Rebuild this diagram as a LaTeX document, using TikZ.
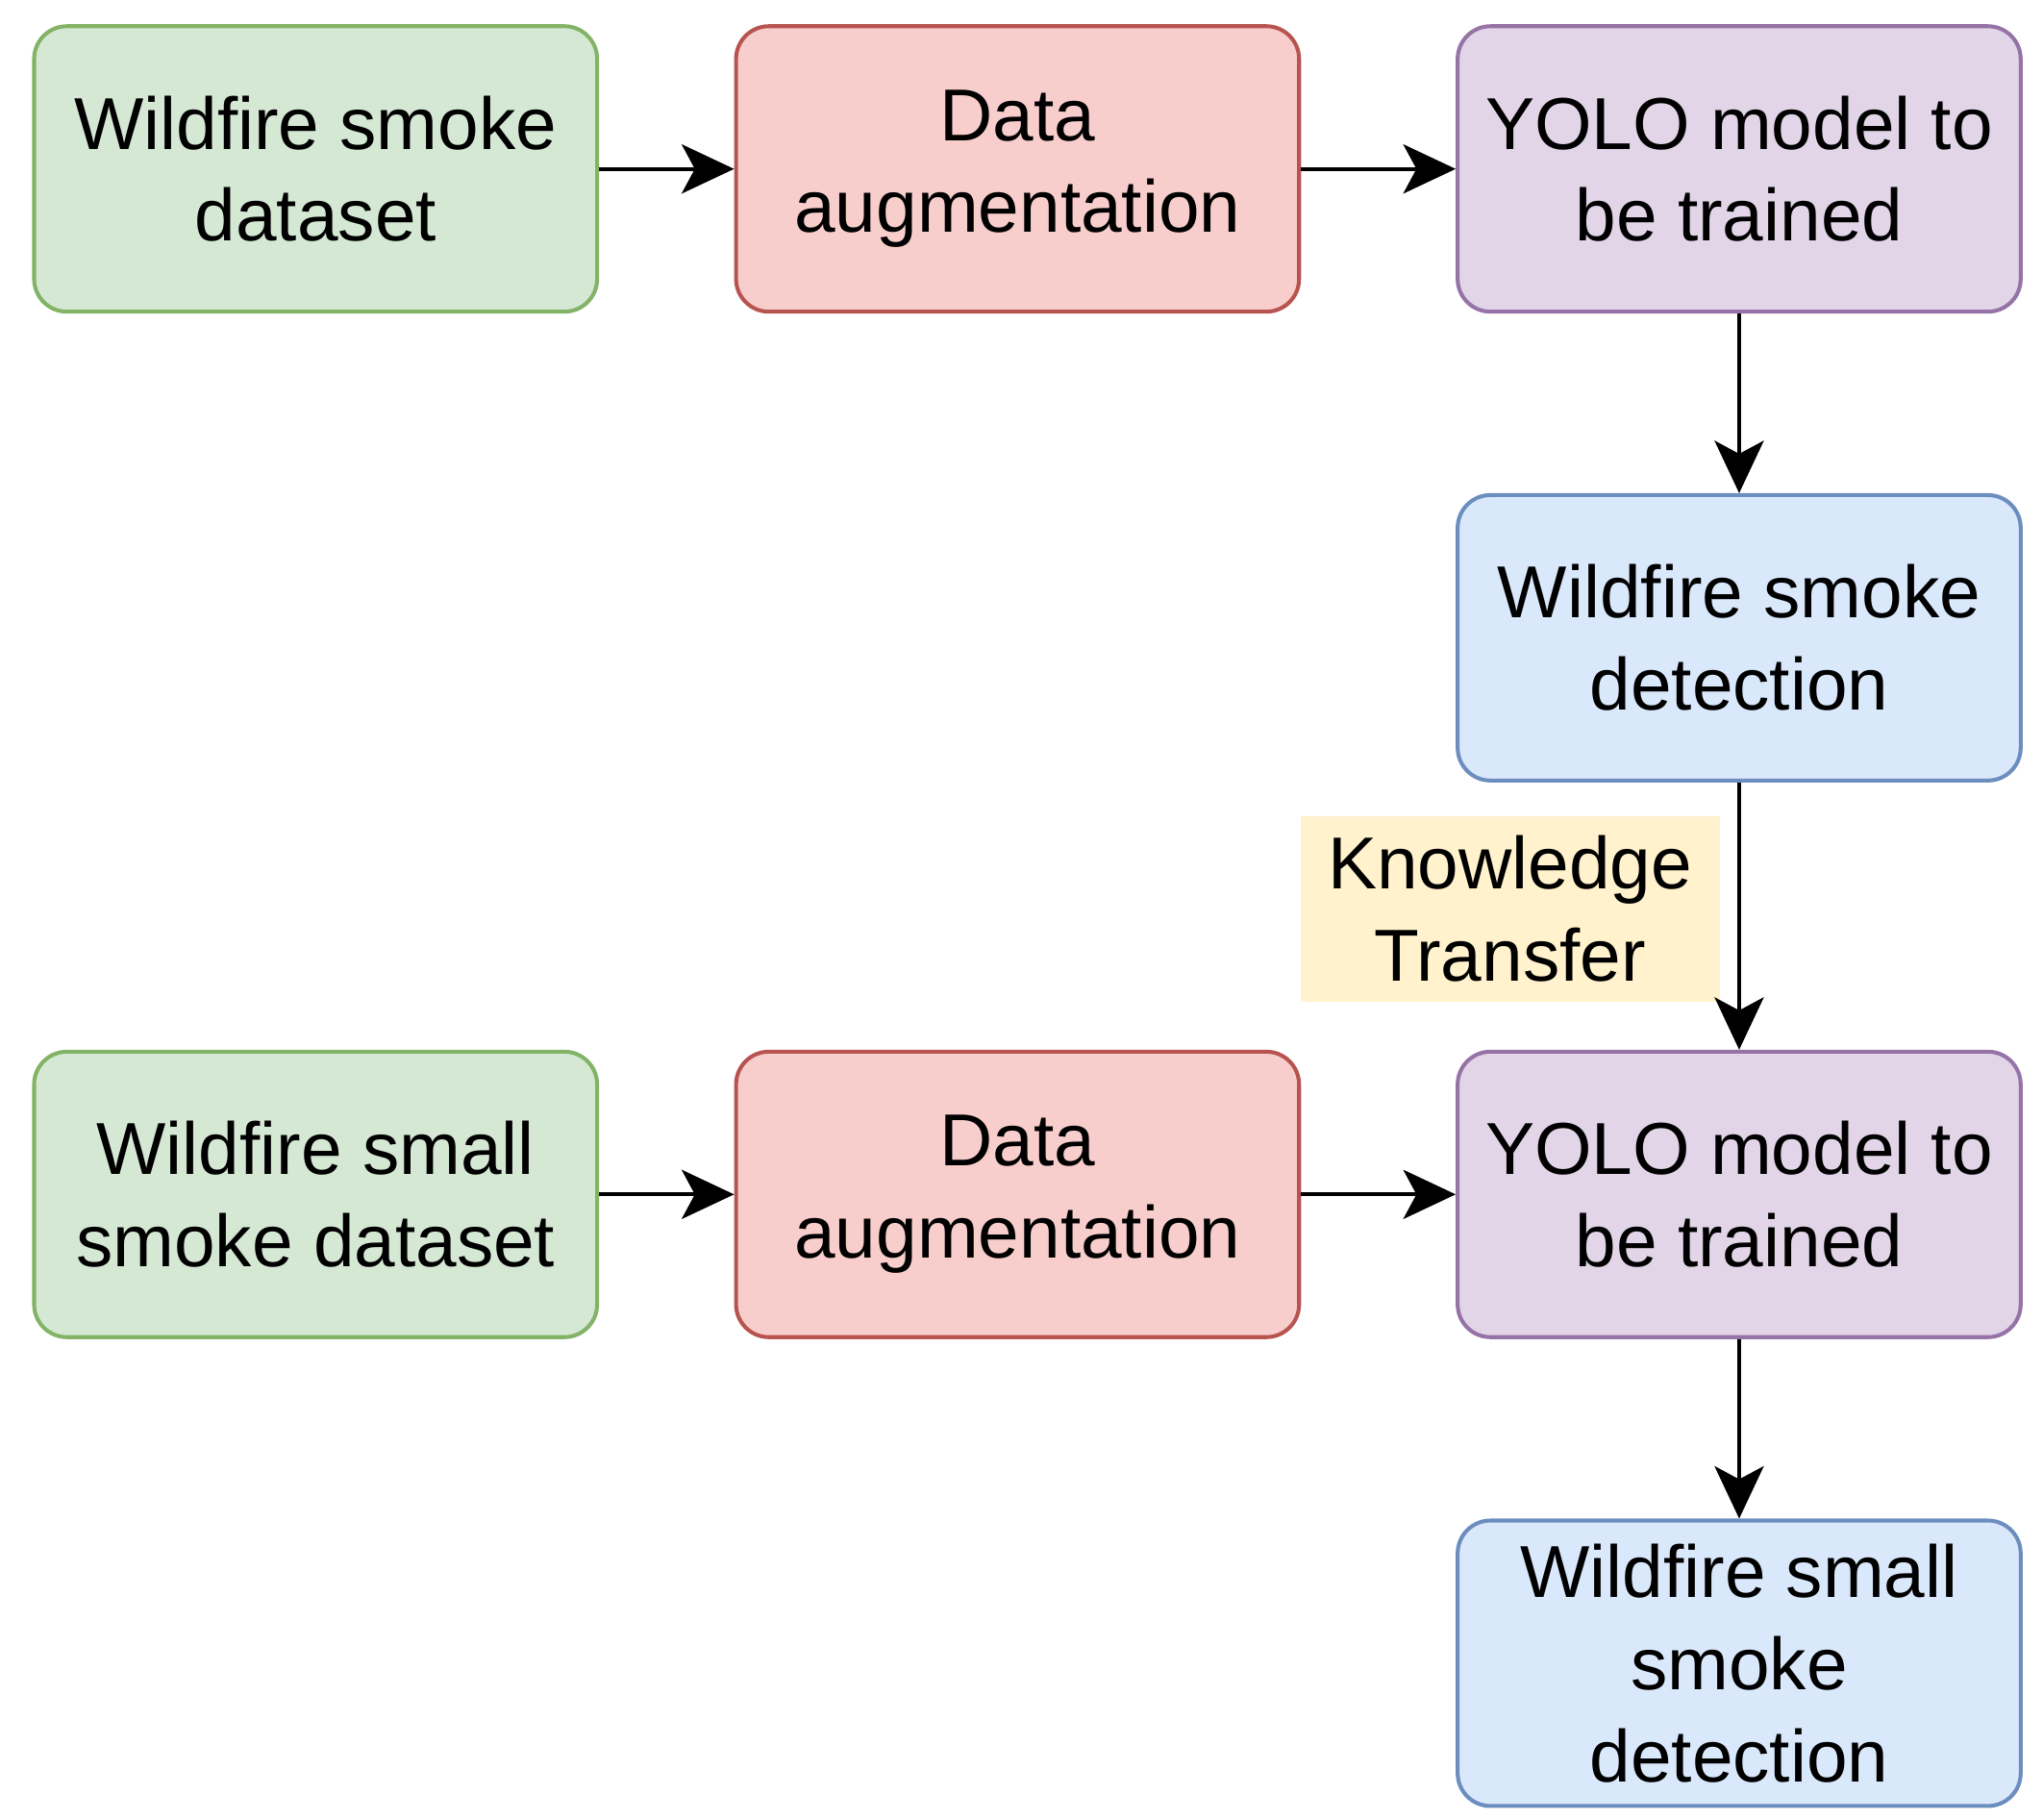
\documentclass[tikz,border=0pt]{standalone}
\usepackage{fontspec}
\setmainfont{Liberation Sans}
\usetikzlibrary{arrows.meta}
\definecolor{gf}{HTML}{D5E8D4}\definecolor{gs}{HTML}{82B366}
\definecolor{rf}{HTML}{F8CECC}\definecolor{rs}{HTML}{B85450}
\definecolor{pf}{HTML}{E1D5E7}\definecolor{ps}{HTML}{9673A6}
\definecolor{bf}{HTML}{DAE8FC}\definecolor{bs}{HTML}{6C8EBF}
\definecolor{yf}{HTML}{FFF2CC}
\begin{document}
\begin{tikzpicture}[x=0.02cm,y=-0.02cm,
 box/.style={draw,line width=1.7pt,rounded corners=0.5cm,minimum width=8.6cm,minimum height=4.36cm,align=center,inner sep=0pt,font=\fontsize{32}{40}\selectfont},
 g/.style={box,fill=gf,draw=gs}, r/.style={box,fill=rf,draw=rs},
 p/.style={box,fill=pf,draw=ps}, b/.style={box,fill=bf,draw=bs},
 arr/.style={line width=1.7pt,-{Stealth[length=0.8cm,width=0.75cm,inset=0.2cm]}}]
\useasboundingbox (0,0) rectangle (1560,1389);
\node[g] (g1) at (241,129) {Wildfire smoke\\dataset};
\node[r] (r1) at (777,129) {Data\\augmentation};
\node[p] (p1) at (1328,129) {YOLO model to\\be trained};
\node[b] (b1) at (1328,487) {Wildfire smoke\\detection};
\node[g] (g2) at (241,912) {Wildfire small\\smoke dataset};
\node[r] (r2) at (777,912) {Data\\augmentation};
\node[p] (p2) at (1328,912) {YOLO model to\\be trained};
\node[b] (b2) at (1328,1270) {Wildfire small\\smoke\\detection};
\node[fill=yf,minimum width=6.4cm,minimum height=2.84cm,align=center,inner sep=0pt,font=\fontsize{32}{40}\selectfont] (kt) at (1153,694) {Knowledge\\Transfer};
\draw[arr] (g1) -- (r1);
\draw[arr] (r1) -- (p1);
\draw[arr] (p1) -- (b1);
\draw[arr] (b1) -- (p2);
\draw[arr] (g2) -- (r2);
\draw[arr] (r2) -- (p2);
\draw[arr] (p2) -- (b2);
\end{tikzpicture}
\end{document}
